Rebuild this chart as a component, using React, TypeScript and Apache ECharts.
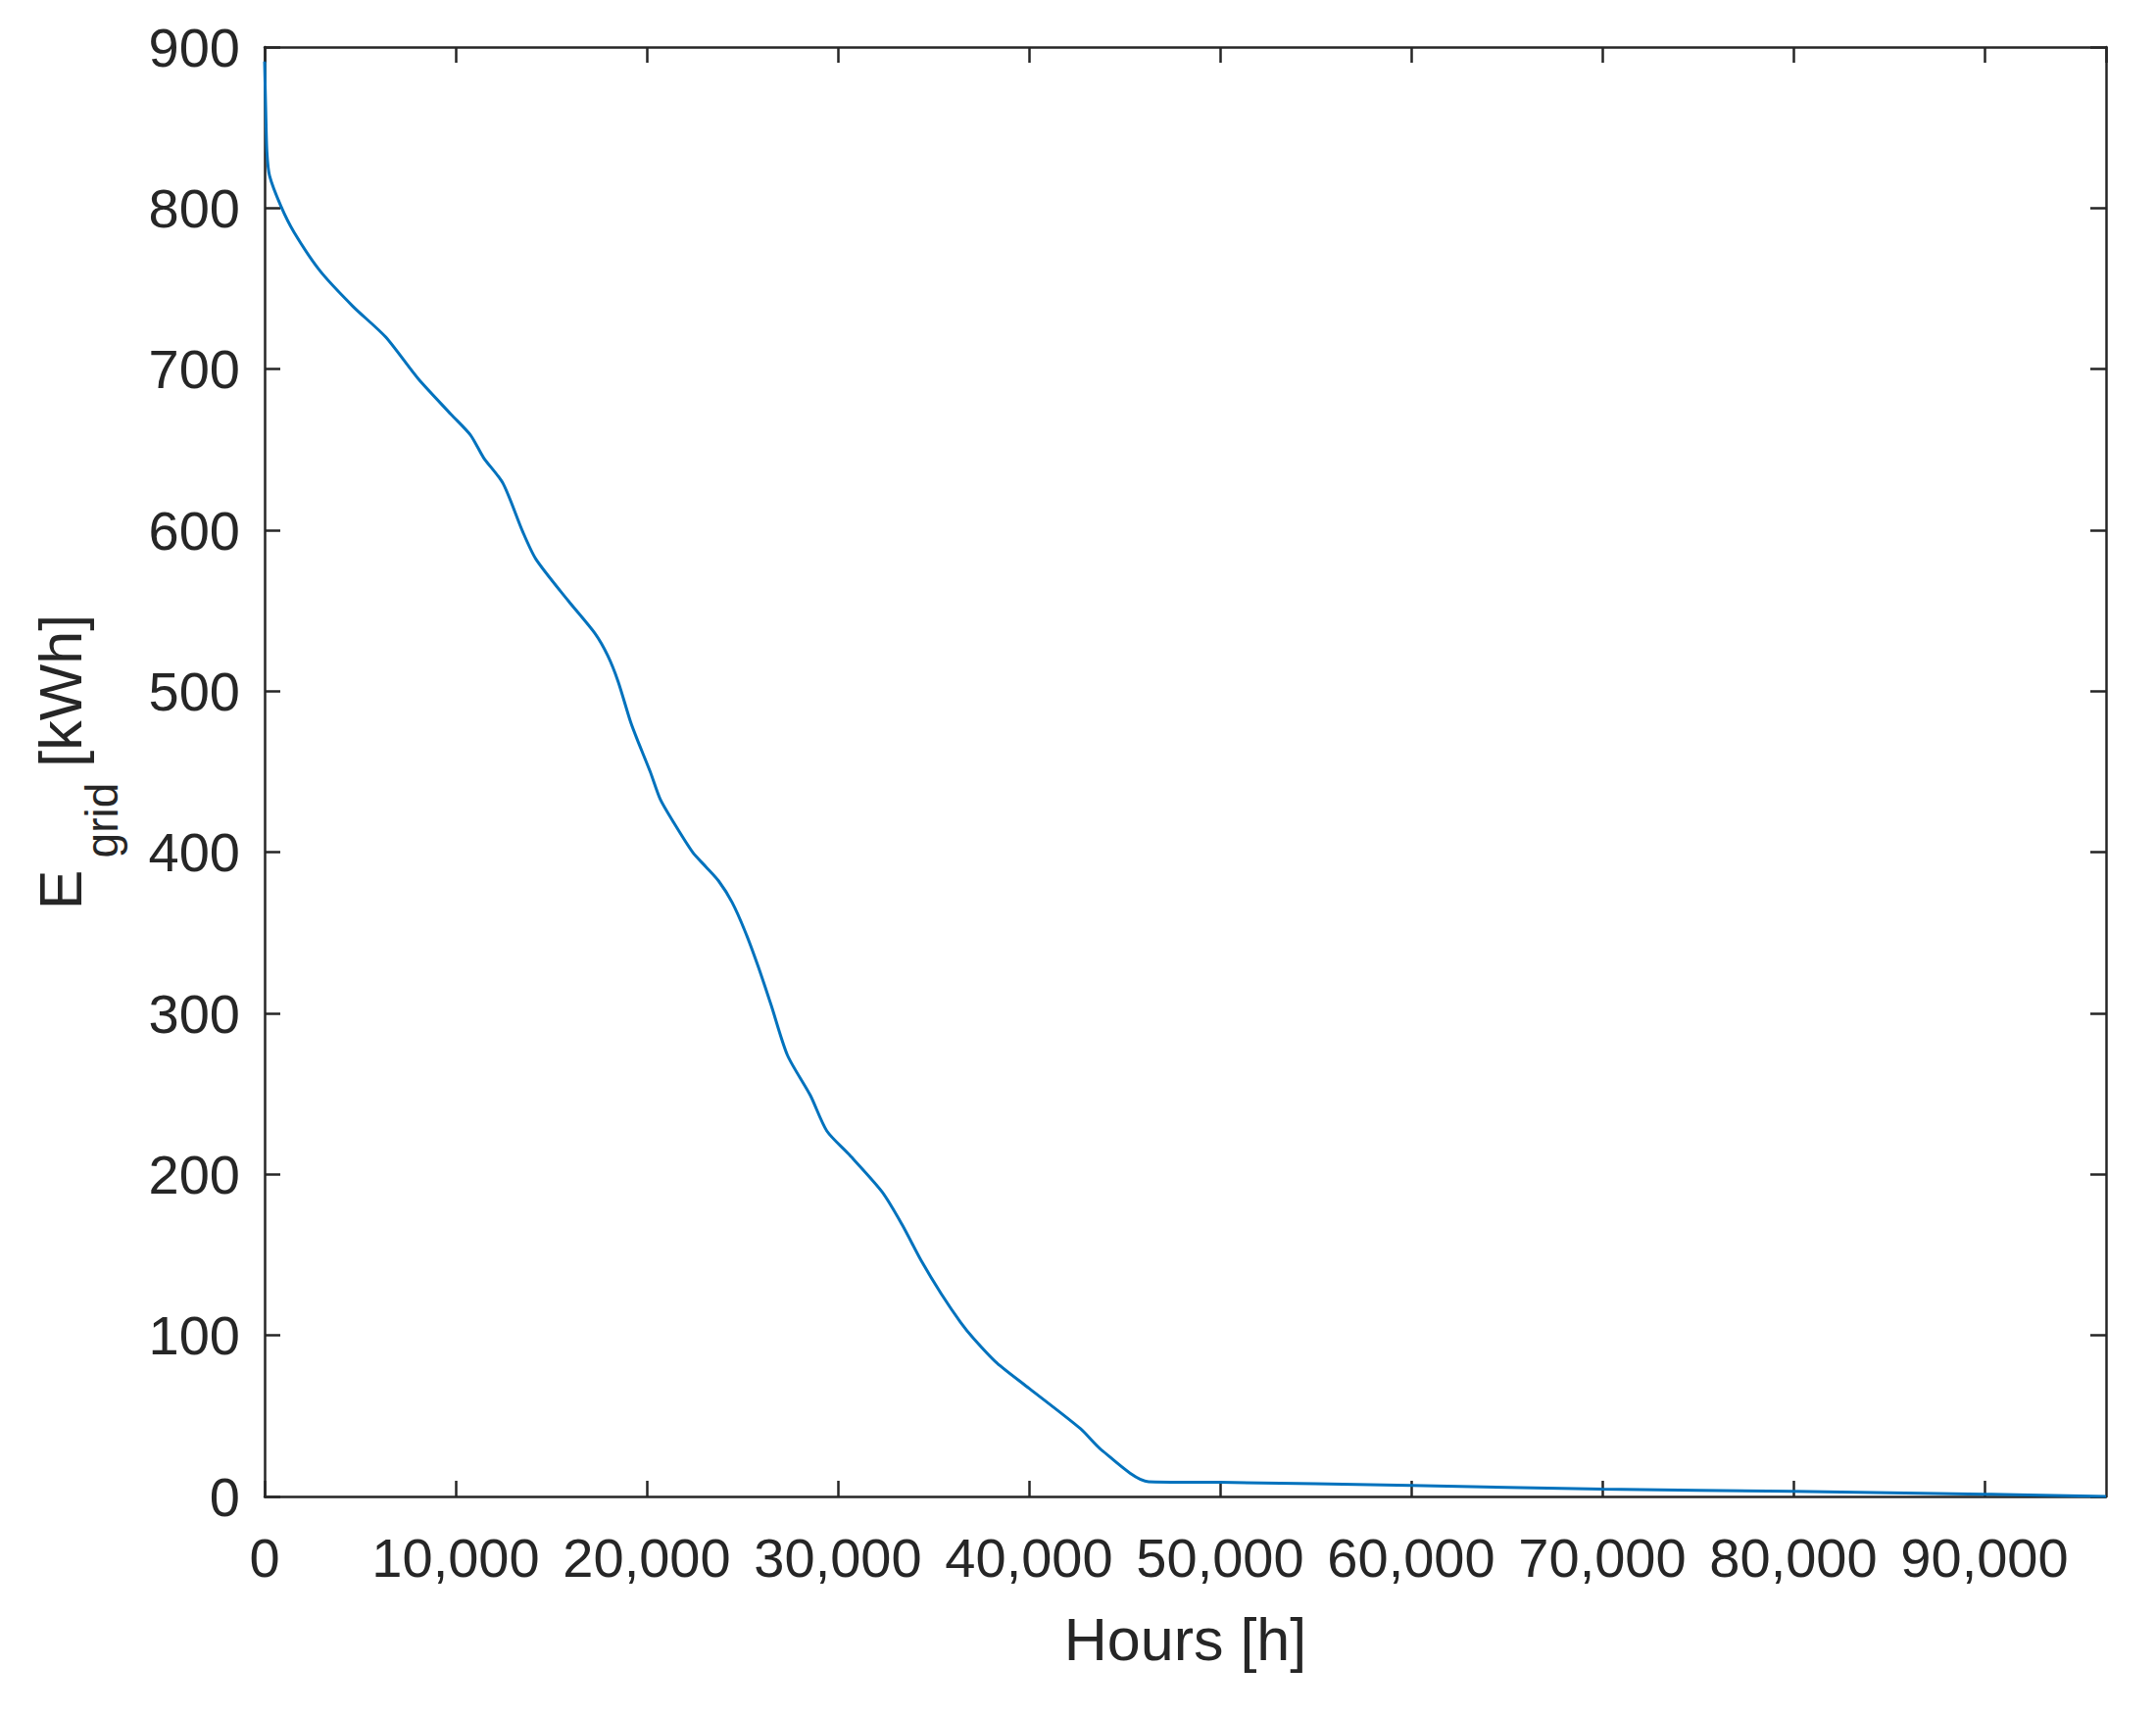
import React, { useEffect, useRef } from "react";
import * as echarts from "echarts";

// Hours [h]
const hours = [
  0, 60, 120, 260, 860, 1540, 2900, 4620, 6330, 8040,
  9750, 10780, 11460, 12480, 13510, 14200, 15900, 17280, 17960, 18500,
  19150, 19500, 20180, 20700, 21380, 22400, 23090, 23770, 24460, 25140,
  25830, 26510, 27360, 28560, 29420, 30610, 32320, 33350, 34380, 35400,
  36430, 37110, 38310, 40020, 42700, 43780, 46260, 50000, 60000, 70000,
  80000, 90000, 96360,
];
// E_grid [kWh]
const energy = [
  891, 860, 835, 820, 801, 785, 761, 739, 720, 694,
  672, 659, 645, 629, 599, 582, 556, 536, 522, 506,
  481, 470, 450, 433, 419, 400, 391, 382, 369, 351,
  329, 305, 274, 249, 227, 212, 189, 169, 146, 126,
  108, 98, 83, 67, 42, 29, 9.2, 8.8, 6.9, 4.5,
  3.2, 1.4, 0,
];

const X_MIN = 0;
const X_MAX = 96360;
const X_INTERVAL = 10000;
const Y_MIN = 0;
const Y_MAX = 900;
const Y_INTERVAL = 100;

const AXIS_COLOR = "#262626";
const LINE_COLOR = "#0072BD";
const FONT = "'Liberation Sans', Arial, Helvetica, sans-serif";

export default function App() {
  const ref = useRef<HTMLDivElement>(null);

  useEffect(() => {
    if (!ref.current) return;
    const chart = echarts.init(ref.current, undefined, { renderer: "svg" });

    const axisLine = { show: true, onZero: false, lineStyle: { color: AXIS_COLOR, width: 2.5 } };
    const axisTick = { show: true, inside: true, length: 16, lineStyle: { color: AXIS_COLOR, width: 2.5 } };

    const data = hours.map((h, i) => [h, energy[i]]);

    chart.setOption({
      animation: false,
      backgroundColor: "#ffffff",
      grid: {
        left: 270,
        right: 51,
        top: 48,
        bottom: 223,
        containLabel: false,
        outerBoundsMode: "none",
      },
      xAxis: [
        {
          type: "value",
          min: X_MIN,
          max: X_MAX,
          interval: X_INTERVAL,
          position: "bottom",
          axisLine,
          axisTick,
          splitLine: { show: false },
          axisLabel: {
            show: true,
            margin: 34,
            color: AXIS_COLOR,
            fontFamily: FONT,
            fontSize: 56,
            lineHeight: 56,
            showMaxLabel: false,
            formatter: (v: number) => v.toLocaleString("en-US"),
          },
          name: "Hours [h]",
          nameLocation: "middle",
          nameGap: 115,
          nameTextStyle: {
            color: AXIS_COLOR,
            fontFamily: FONT,
            fontSize: 61,
            lineHeight: 61,
          },
        },
        {
          type: "value",
          min: X_MIN,
          max: X_MAX,
          interval: X_INTERVAL,
          position: "top",
          axisLine,
          axisTick,
          splitLine: { show: false },
          axisLabel: { show: false },
        },
      ],
      yAxis: [
        {
          type: "value",
          min: Y_MIN,
          max: Y_MAX,
          interval: Y_INTERVAL,
          position: "left",
          axisLine,
          axisTick,
          splitLine: { show: false },
          axisLabel: {
            show: true,
            margin: 25,
            color: AXIS_COLOR,
            fontFamily: FONT,
            fontSize: 56,
          },
          name: "{e|E}{b|grid}{a|[kWh]}",
          nameLocation: "middle",
          nameRotate: 90,
          nameGap: 178,
          nameTextStyle: {
            color: AXIS_COLOR,
            fontFamily: FONT,
            rich: {
              e: {
                fontFamily: FONT,
                fontSize: 61,
                lineHeight: 61,
                color: AXIS_COLOR,
                verticalAlign: "middle",
                padding: [0, 0, 0, 20],
              },
              a: {
                fontFamily: FONT,
                fontSize: 61,
                lineHeight: 61,
                color: AXIS_COLOR,
                verticalAlign: "middle",
              },
              b: {
                fontFamily: FONT,
                fontSize: 46,
                lineHeight: 46,
                color: AXIS_COLOR,
                verticalAlign: "middle",
                padding: [84, 16, 0, 12],
              },
            },
          },
        },
        {
          type: "value",
          min: Y_MIN,
          max: Y_MAX,
          interval: Y_INTERVAL,
          position: "right",
          axisLine,
          axisTick,
          splitLine: { show: false },
          axisLabel: { show: false },
        },
      ],
      series: [
        {
          type: "line",
          xAxisIndex: 0,
          yAxisIndex: 0,
          data,
          showSymbol: false,
          symbol: "none",
          smooth: 0.25,
          lineStyle: { color: LINE_COLOR, width: 3 },
          itemStyle: { color: LINE_COLOR },
        },
      ],
    });

    return () => {
      chart.dispose();
    };
  }, []);

  return (
    <div
      ref={ref}
      style={{
        position: "fixed",
        left: 0,
        top: 0,
        width: 2200,
        height: 1750,
        background: "#ffffff",
      }}
    />
  );
}
